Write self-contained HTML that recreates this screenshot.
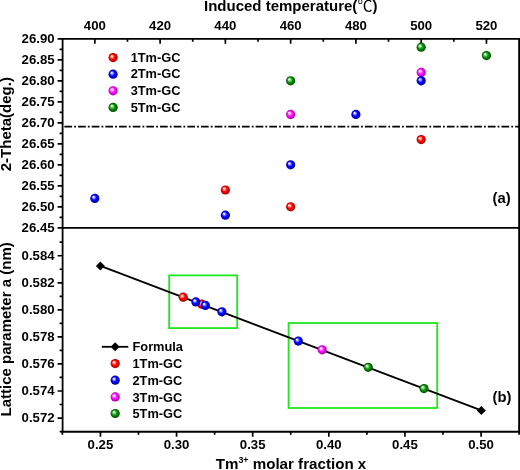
<!DOCTYPE html>
<html lang="en"><head><meta charset="utf-8"><title>Induced temperature chart</title>
<style>html,body{margin:0;padding:0;background:#fff;}body{width:520px;height:470px;overflow:hidden;}svg{display:block;}text{font-family:"Liberation Sans", "Noto Sans CJK SC", sans-serif;font-weight:bold;fill:#000;}.dc{font-family:"Liberation Sans","Noto Sans CJK SC","WenQuanYi Zen Hei",sans-serif;font-weight:normal;}</style></head><body>
<svg width="520" height="470" viewBox="0 0 520 470">
<defs>
<radialGradient id="gr" cx="0.5" cy="0.5" r="0.5" fx="0.32" fy="0.32"><stop offset="0.08" stop-color="#ffffff"/><stop offset="0.27" stop-color="#ff9a88"/><stop offset="0.52" stop-color="#ff0a0a"/><stop offset="0.72" stop-color="#e80000"/><stop offset="1" stop-color="#980000"/></radialGradient>
<radialGradient id="gb" cx="0.5" cy="0.5" r="0.5" fx="0.32" fy="0.32"><stop offset="0.08" stop-color="#ffffff"/><stop offset="0.27" stop-color="#9494ff"/><stop offset="0.52" stop-color="#0c0cff"/><stop offset="0.72" stop-color="#0000e8"/><stop offset="1" stop-color="#000090"/></radialGradient>
<radialGradient id="gm" cx="0.5" cy="0.5" r="0.5" fx="0.32" fy="0.32"><stop offset="0.08" stop-color="#ffffff"/><stop offset="0.27" stop-color="#ffa4ff"/><stop offset="0.52" stop-color="#ff18ff"/><stop offset="0.72" stop-color="#ee00ee"/><stop offset="1" stop-color="#9c009c"/></radialGradient>
<radialGradient id="gg" cx="0.5" cy="0.5" r="0.5" fx="0.32" fy="0.32"><stop offset="0.08" stop-color="#ffffff"/><stop offset="0.27" stop-color="#88dd88"/><stop offset="0.52" stop-color="#149c14"/><stop offset="0.72" stop-color="#007c00"/><stop offset="1" stop-color="#004800"/></radialGradient>
</defs>
<rect width="520" height="470" fill="#ffffff"/>
<text x="290.7" y="11.4" font-size="15" text-anchor="middle">Induced temperature(<tspan class="dc">℃</tspan>)</text>
<text transform="translate(10.8 124.2) rotate(-90)" font-size="15" text-anchor="middle">2-Theta(deg.)</text>
<text transform="translate(10.8 329.4) rotate(-90)" font-size="15" text-anchor="middle">Lattice parameter a (nm)</text>
<text x="291" y="469.2" font-size="15.15" text-anchor="middle">Tm<tspan font-size="8.8" dy="-6.4">3+</tspan><tspan dy="6.4"> molar fraction x</tspan></text>
<text x="94.83" y="30.0" font-size="13.2" text-anchor="middle">400</text>
<text x="160.10" y="30.0" font-size="13.2" text-anchor="middle">420</text>
<text x="225.37" y="30.0" font-size="13.2" text-anchor="middle">440</text>
<text x="290.64" y="30.0" font-size="13.2" text-anchor="middle">460</text>
<text x="355.91" y="30.0" font-size="13.2" text-anchor="middle">480</text>
<text x="421.18" y="30.0" font-size="13.2" text-anchor="middle">500</text>
<text x="486.45" y="30.0" font-size="13.2" text-anchor="middle">520</text>
<text x="54.6" y="43.10" font-size="13.2" text-anchor="end">26.90</text>
<text x="54.6" y="64.10" font-size="13.2" text-anchor="end">26.85</text>
<text x="54.6" y="85.10" font-size="13.2" text-anchor="end">26.80</text>
<text x="54.6" y="106.10" font-size="13.2" text-anchor="end">26.75</text>
<text x="54.6" y="127.10" font-size="13.2" text-anchor="end">26.70</text>
<text x="54.6" y="148.10" font-size="13.2" text-anchor="end">26.65</text>
<text x="54.6" y="169.10" font-size="13.2" text-anchor="end">26.60</text>
<text x="54.6" y="190.10" font-size="13.2" text-anchor="end">26.55</text>
<text x="54.6" y="211.10" font-size="13.2" text-anchor="end">26.50</text>
<text x="54.6" y="232.10" font-size="13.2" text-anchor="end">26.45</text>
<text x="54.6" y="260.04" font-size="13.2" text-anchor="end">0.584</text>
<text x="54.6" y="287.09" font-size="13.2" text-anchor="end">0.582</text>
<text x="54.6" y="314.14" font-size="13.2" text-anchor="end">0.580</text>
<text x="54.6" y="341.19" font-size="13.2" text-anchor="end">0.578</text>
<text x="54.6" y="368.24" font-size="13.2" text-anchor="end">0.576</text>
<text x="54.6" y="395.29" font-size="13.2" text-anchor="end">0.574</text>
<text x="54.6" y="422.34" font-size="13.2" text-anchor="end">0.572</text>
<text x="100.43" y="449.1" font-size="13.2" text-anchor="middle">0.25</text>
<text x="176.56" y="449.1" font-size="13.2" text-anchor="middle">0.30</text>
<text x="252.69" y="449.1" font-size="13.2" text-anchor="middle">0.35</text>
<text x="328.82" y="449.1" font-size="13.2" text-anchor="middle">0.40</text>
<text x="404.95" y="449.1" font-size="13.2" text-anchor="middle">0.45</text>
<text x="481.08" y="449.1" font-size="13.2" text-anchor="middle">0.50</text>
<path d="M62.60 38.80H57.60M62.60 49.30H59.60M62.60 59.80H57.60M62.60 70.30H59.60M62.60 80.80H57.60M62.60 91.30H59.60M62.60 101.80H57.60M62.60 112.30H59.60M62.60 122.80H57.60M62.60 133.30H59.60M62.60 143.80H57.60M62.60 154.30H59.60M62.60 164.80H57.60M62.60 175.30H59.60M62.60 185.80H57.60M62.60 196.30H59.60M62.60 206.80H57.60M62.60 217.30H59.60M62.60 227.80H57.60M62.60 242.22H59.60M62.60 255.74H57.60M62.60 269.27H59.60M62.60 282.79H57.60M62.60 296.32H59.60M62.60 309.84H57.60M62.60 323.37H59.60M62.60 336.89H57.60M62.60 350.42H59.60M62.60 363.94H57.60M62.60 377.47H59.60M62.60 390.99H57.60M62.60 404.52H59.60M62.60 418.04H57.60M62.60 431.57H59.60M94.83 38.80V43.80M127.47 38.80V41.80M160.10 38.80V43.80M192.74 38.80V41.80M225.37 38.80V43.80M258.00 38.80V41.80M290.64 38.80V43.80M323.27 38.80V41.80M355.91 38.80V43.80M388.54 38.80V41.80M421.18 38.80V43.80M453.81 38.80V41.80M486.45 38.80V43.80M62.37 431.75V434.75M100.43 431.75V436.65M138.50 431.75V434.75M176.56 431.75V436.65M214.62 431.75V434.75M252.69 431.75V436.65M290.75 431.75V434.75M328.82 431.75V436.65M366.89 431.75V434.75M404.95 431.75V436.65M443.01 431.75V434.75M481.08 431.75V436.65M519.14 431.75V434.75" stroke="#000" stroke-width="1.7" fill="none"/>
<path d="M62.60 38.80H519.10V431.75H62.60Z M62.60 227.85H519.10" stroke="#000" stroke-width="1.8" fill="none" stroke-linejoin="miter"/>
<path d="M64.4 126.6H519.10" stroke="#000" stroke-width="1.6" stroke-dasharray="7.7 2.08 1.8 2.08" fill="none"/>
<circle cx="94.83" cy="198.40" r="4.60" fill="url(#gb)"/>
<circle cx="225.37" cy="190.00" r="4.60" fill="url(#gr)"/>
<circle cx="225.37" cy="215.20" r="4.60" fill="url(#gb)"/>
<circle cx="290.64" cy="206.80" r="4.60" fill="url(#gr)"/>
<circle cx="290.64" cy="164.80" r="4.60" fill="url(#gb)"/>
<circle cx="290.64" cy="114.40" r="4.60" fill="url(#gm)"/>
<circle cx="290.64" cy="80.80" r="4.60" fill="url(#gg)"/>
<circle cx="355.91" cy="114.40" r="4.60" fill="url(#gb)"/>
<circle cx="421.18" cy="139.60" r="4.60" fill="url(#gr)"/>
<circle cx="421.18" cy="72.40" r="4.60" fill="url(#gm)"/>
<circle cx="421.18" cy="80.80" r="4.60" fill="url(#gb)"/>
<circle cx="421.18" cy="47.20" r="4.60" fill="url(#gg)"/>
<circle cx="486.45" cy="55.60" r="4.60" fill="url(#gg)"/>
<circle cx="113.10" cy="57.60" r="4.60" fill="url(#gr)"/>
<text x="130.7" y="61.80" font-size="12.8">1Tm-GC</text>
<circle cx="113.10" cy="74.20" r="4.60" fill="url(#gb)"/>
<text x="130.7" y="78.40" font-size="12.8">2Tm-GC</text>
<circle cx="113.10" cy="90.80" r="4.60" fill="url(#gm)"/>
<text x="130.7" y="95.00" font-size="12.8">3Tm-GC</text>
<circle cx="113.10" cy="107.40" r="4.60" fill="url(#gg)"/>
<text x="130.7" y="111.60" font-size="12.8">5Tm-GC</text>
<text x="492.5" y="202.6" font-size="14.8">(a)</text>
<rect x="169.2" y="275.4" width="68" height="52.7" fill="none" stroke="#1de61d" stroke-width="1.8"/>
<rect x="288.6" y="323" width="148.6" height="85" fill="none" stroke="#1de61d" stroke-width="1.8"/>
<path d="M100.4 265.9L481.3 410.4" stroke="#000" stroke-width="1.8" fill="none"/>
<path d="M95.90 265.90 L100.40 261.40 L104.90 265.90 L100.40 270.40 Z" fill="#000"/>
<path d="M476.80 410.40 L481.30 405.90 L485.80 410.40 L481.30 414.90 Z" fill="#000"/>
<circle cx="183.20" cy="297.20" r="4.60" fill="url(#gr)"/>
<circle cx="201.80" cy="304.20" r="4.60" fill="url(#gr)"/>
<circle cx="195.90" cy="301.90" r="4.60" fill="url(#gb)"/>
<circle cx="205.40" cy="305.40" r="4.60" fill="url(#gb)"/>
<circle cx="221.90" cy="311.80" r="4.60" fill="url(#gb)"/>
<circle cx="298.30" cy="341.10" r="4.60" fill="url(#gb)"/>
<circle cx="322.20" cy="349.80" r="4.60" fill="url(#gm)"/>
<circle cx="368.20" cy="367.30" r="4.60" fill="url(#gg)"/>
<circle cx="424.00" cy="388.60" r="4.60" fill="url(#gg)"/>
<path d="M101.8 346.8H128.3" stroke="#000" stroke-width="1.8"/>
<path d="M110.60 346.80 L115.10 342.30 L119.60 346.80 L115.10 351.30 Z" fill="#000"/>
<text x="132.5" y="351.3" font-size="12.8">Formula</text>
<circle cx="115.20" cy="363.60" r="4.60" fill="url(#gr)"/>
<text x="132.5" y="368.20" font-size="12.8">1Tm-GC</text>
<circle cx="115.20" cy="380.20" r="4.60" fill="url(#gb)"/>
<text x="132.5" y="384.80" font-size="12.8">2Tm-GC</text>
<circle cx="115.20" cy="396.90" r="4.60" fill="url(#gm)"/>
<text x="132.5" y="401.50" font-size="12.8">3Tm-GC</text>
<circle cx="115.20" cy="413.50" r="4.60" fill="url(#gg)"/>
<text x="132.5" y="418.10" font-size="12.8">5Tm-GC</text>
<text x="492.5" y="402.3" font-size="14.8">(b)</text>
</svg></body></html>
